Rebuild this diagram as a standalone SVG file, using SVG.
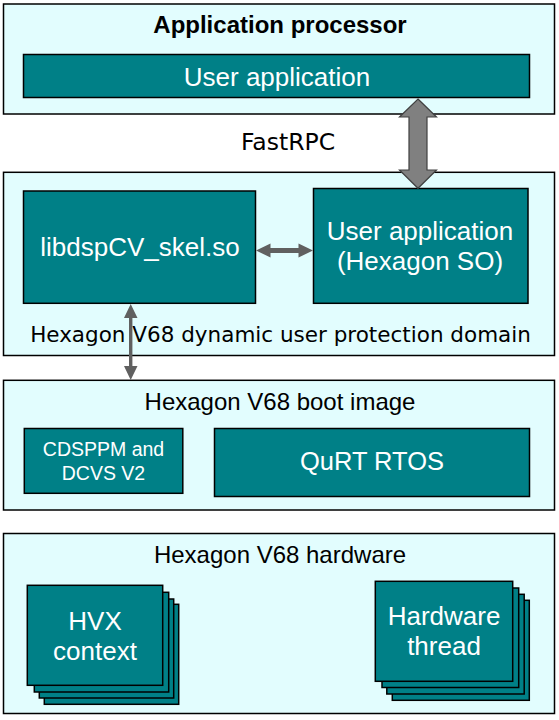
<svg xmlns="http://www.w3.org/2000/svg" width="559" height="720" viewBox="0 0 559 720">
<style>
.outer{fill:#e2fdfe;stroke:#000;stroke-width:1.5}
.teal{fill:#008087;stroke:#000;stroke-width:1.5}
.wt{fill:#fff;font-family:"Liberation Sans",Arial,sans-serif;font-size:26px;text-anchor:middle}
.bt{fill:#000;font-family:"Liberation Sans",Arial,sans-serif;font-size:24px;text-anchor:middle}
.dj{fill:#000;font-family:"DejaVu Sans",sans-serif;font-size:21.5px;text-anchor:middle}
</style>
<rect width="559" height="720" fill="#fff"/>
<g id="application-processor">
<rect class="outer" x="3.5" y="4" width="551" height="110"/>
<text class="bt" x="280" y="33.3" font-weight="bold">Application processor</text>
</g>
<g id="user-application">
<rect class="teal" x="23.5" y="54.5" width="506" height="43"/>
<text class="wt" x="277" y="86">User application</text>
</g>
<g id="fastrpc-label">
<text class="dj" x="288" y="149.5" style="font-size:23.5px">FastRPC</text>
</g>
<g id="protection-domain">
<rect class="outer" x="3.5" y="172.3" width="551" height="183.2"/>
<text class="dj" x="280.5" y="341.5">Hexagon V68 dynamic user protection domain</text>
</g>
<g id="libdspcv-skel">
<rect class="teal" x="23.5" y="191" width="232" height="112.3"/>
<text class="wt" x="140" y="256">libdspCV_skel.so</text>
</g>
<g id="user-application-so">
<rect class="teal" x="313.5" y="188.5" width="214.5" height="114.8"/>
<text class="wt" x="420" y="240">User application</text>
<text class="wt" x="420" y="270">(Hexagon SO)</text>
</g>
<g id="boot-image">
<rect class="outer" x="3.5" y="380.3" width="551" height="129.7"/>
<text class="bt" x="280" y="410">Hexagon V68 boot image</text>
</g>
<g id="cdsppm-dcvs">
<rect class="teal" x="24.3" y="428.5" width="158.5" height="64.8"/>
<text class="wt" x="103.5" y="456" style="font-size:19.5px">CDSPPM and</text>
<text class="wt" x="103.5" y="480" style="font-size:19.5px">DCVS V2</text>
</g>
<g id="qurt-rtos">
<rect class="teal" x="214.5" y="428.5" width="315" height="68"/>
<text class="wt" x="372" y="470" style="font-size:25.5px">QuRT RTOS</text>
</g>
<g id="hardware">
<rect class="outer" x="3.5" y="533.5" width="551" height="180"/>
<text class="bt" x="280" y="562.7">Hexagon V68 hardware</text>
</g>
<g id="hvx-context">
<rect class="teal" x="44.3" y="604.3" width="134.4" height="100"/>
<rect class="teal" x="39.3" y="599" width="134.4" height="99"/>
<rect class="teal" x="34.3" y="592.3" width="134.4" height="99.7"/>
<rect class="teal" x="27.3" y="585.3" width="135.4" height="100"/>
<text class="wt" x="95" y="630">HVX</text>
<text class="wt" x="95" y="660">context</text>
</g>
<g id="hardware-thread">
<rect class="teal" x="392.3" y="600.3" width="137" height="100"/>
<rect class="teal" x="386.8" y="594.3" width="137.4" height="99.7"/>
<rect class="teal" x="382" y="588" width="136.7" height="99.5"/>
<rect class="teal" x="375.3" y="581.3" width="137.4" height="100"/>
<text class="wt" x="444" y="625">Hardware</text>
<text class="wt" x="444" y="655">thread</text>
</g>
<g id="connectors">
<polygon points="418,99 436.5,117 427,117 427,170 436.5,170 418,188.3 399.5,170 409,170 409,117 399.5,117" fill="#808080" stroke="#404040" stroke-width="1.2" stroke-linejoin="miter"/>
<polygon points="256,250.5 270.5,243.5 270.5,248 298.5,248 298.5,243.5 313,250.5 298.5,257.5 298.5,253 270.5,253 270.5,257.5" fill="#606060"/>
<polygon points="130.7,304 137.5,318 132.4,318 132.4,366 137.5,366 130.7,380 124,366 129,366 129,318 124,318" fill="#606060"/>
</g>
</svg>
